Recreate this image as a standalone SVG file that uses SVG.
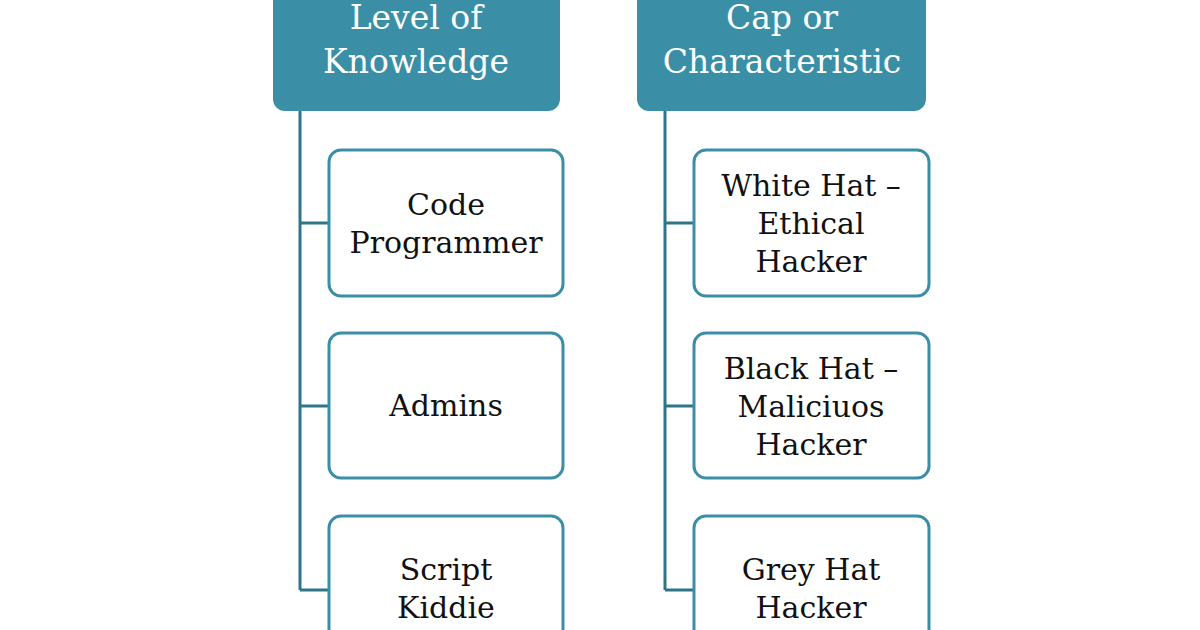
<svg xmlns="http://www.w3.org/2000/svg" width="1200" height="630" viewBox="0 0 1200 630">
<style>
.h{fill:#3a8fa7}
.c{fill:#fff;stroke:#3a8fa7;stroke-width:3}
.ht{font-family:"DejaVu Serif",serif;font-size:33px;fill:#fff;text-anchor:middle}
.ct{font-family:"DejaVu Serif",serif;font-size:30px;fill:#111;text-anchor:middle}
.l{stroke:#2f7487;stroke-width:3;fill:none}
</style>
<rect width="1200" height="630" fill="#fff"/>
<g id="connectors">
<path class="l" d="M300 111V590M300 223H329M300 406H329M300 590H329"/>
<path class="l" d="M665 111V590M665 223H694M665 406H694M665 590H694"/>
</g>
<g id="h1"><rect class="h" x="273" y="-20" width="287" height="131" rx="12"/>
<text class="ht" x="416" y="29">Level of</text><text class="ht" x="416" y="73">Knowledge</text></g>
<g id="h2"><rect class="h" x="637" y="-20" width="289" height="131" rx="12"/>
<text class="ht" x="782" y="29">Cap or</text><text class="ht" x="782" y="73">Characteristic</text></g>
<g id="n1"><rect class="c" x="329" y="150" width="234" height="146" rx="12"/>
<text class="ct" x="446" y="215">Code</text><text class="ct" x="446" y="253">Programmer</text></g>
<g id="n2"><rect class="c" x="329" y="333" width="234" height="145" rx="12"/>
<text class="ct" x="446" y="416">Admins</text></g>
<g id="n3"><rect class="c" x="329" y="516" width="234" height="140" rx="12"/>
<text class="ct" x="446" y="580">Script</text><text class="ct" x="446" y="618">Kiddie</text></g>
<g id="n4"><rect class="c" x="694" y="150" width="235" height="146" rx="12"/>
<text class="ct" x="811" y="196">White Hat –</text><text class="ct" x="811" y="234">Ethical</text><text class="ct" x="811" y="272">Hacker</text></g>
<g id="n5"><rect class="c" x="694" y="333" width="235" height="145" rx="12"/>
<text class="ct" x="811" y="379">Black Hat –</text><text class="ct" x="811" y="417">Maliciuos</text><text class="ct" x="811" y="455">Hacker</text></g>
<g id="n6"><rect class="c" x="694" y="516" width="235" height="140" rx="12"/>
<text class="ct" x="811" y="580">Grey Hat</text><text class="ct" x="811" y="618">Hacker</text></g>
</svg>
